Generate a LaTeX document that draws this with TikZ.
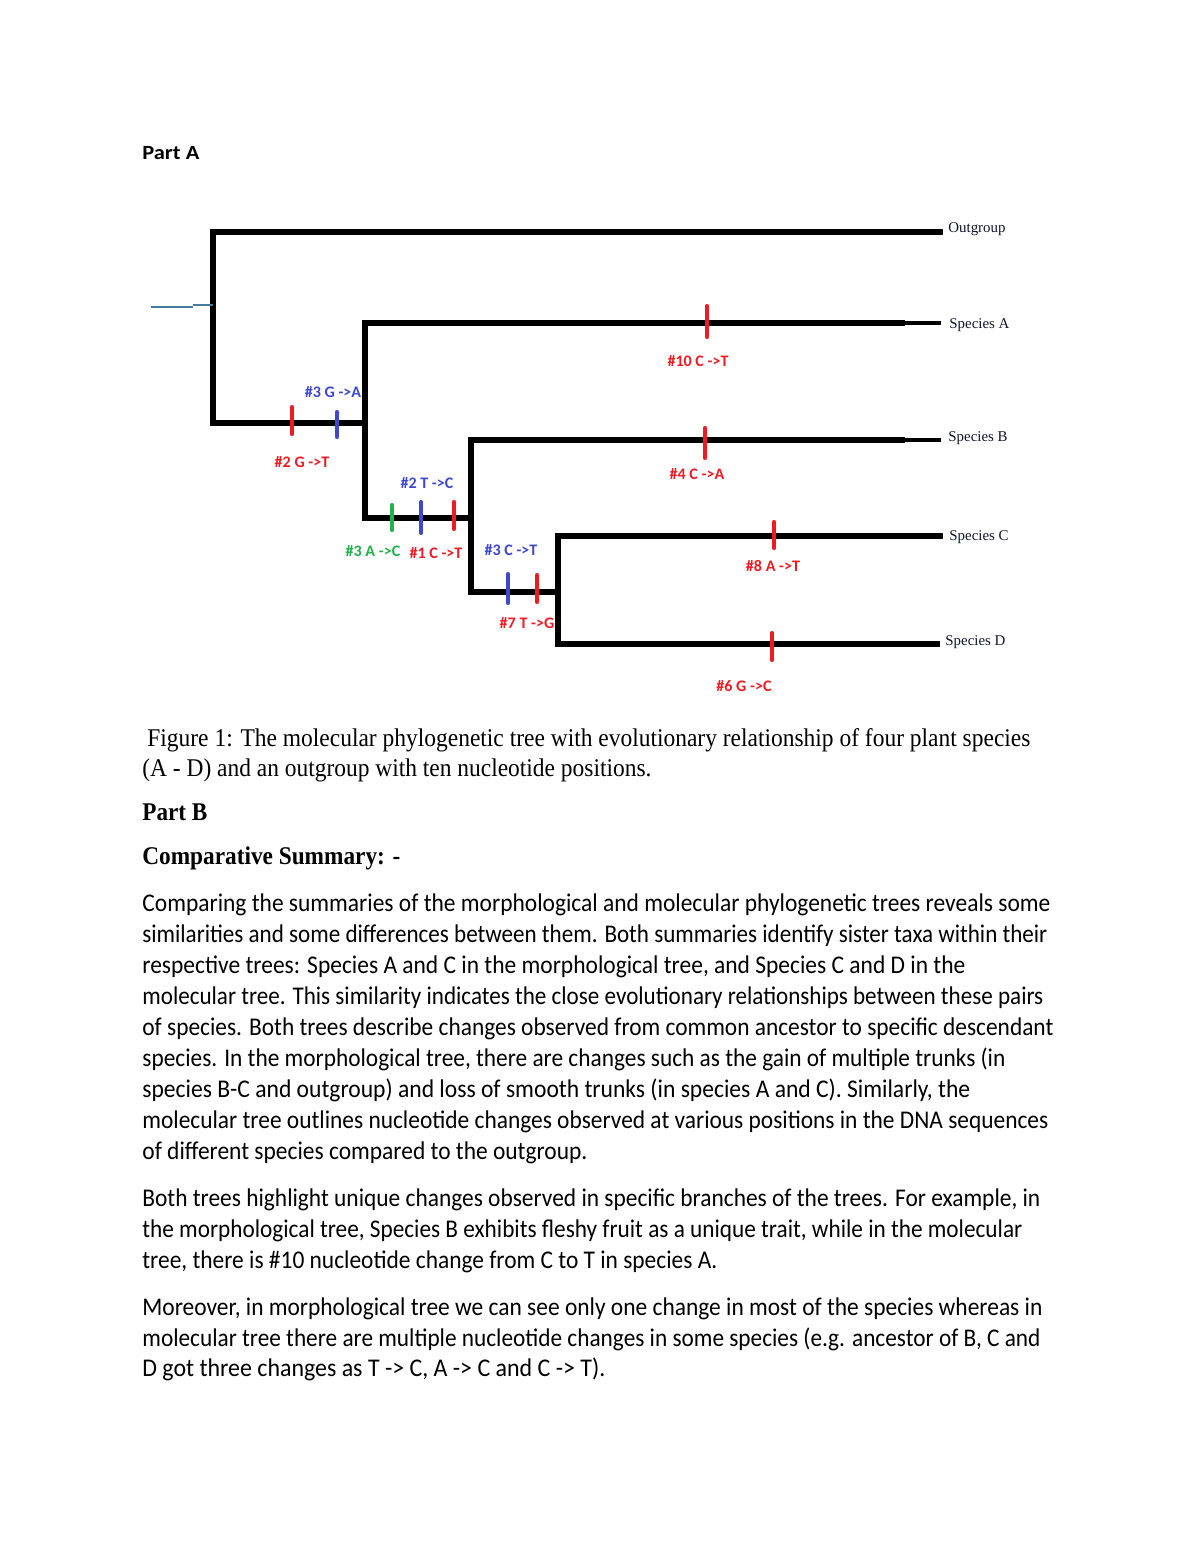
\documentclass[tikz,border=0pt]{standalone}
\usepackage{fontspec}
\usepackage{graphicx}
\setmainfont{Liberation Serif}
\newfontfamily\bodyfont{Carlito}
\newlength\pxu
\setlength\pxu{0.51pt}
\newcommand\fitw[2]{\resizebox{#1\pxu}{\height}{#2}}
\definecolor{mred}{RGB}{237,28,36}
\definecolor{mblue}{RGB}{63,72,204}
\definecolor{mgreen}{RGB}{34,177,76}
\definecolor{mteal}{RGB}{70,125,155}
\definecolor{spink}{RGB}{20,20,45}
\tikzset{
  branch/.style={line width=2.6pt, line join=miter, line cap=rect},
  thinend/.style={line width=1.6pt},
  tick/.style={line width=2.1pt, line cap=round},
  mlabel/.style={font=\bodyfont\bfseries\fontsize{8.2pt}{9pt}\selectfont, inner sep=0pt},
  splabel/.style={font=\fontsize{7.6pt}{9pt}\selectfont, text=spink, anchor=base west, inner sep=0pt},
  txt/.style={anchor=base west, inner sep=0pt},
}
\begin{document}
\begin{tikzpicture}[x={(0.51pt,0)}, y={(0,-0.51pt)}]
\fill[white] (0,0) rectangle (1200,1553);
\useasboundingbox (0,0) rectangle (1200,1553);

% ---------- headings ----------
\node[txt] (partA) at (142,160) {\fitw{57}{\bodyfont\bfseries\fontsize{10.3pt}{12pt}\selectfont Part A}};

% ---------- tree coordinates ----------
\coordinate (rt) at (213,232);
\coordinate (rb) at (213,423);
\coordinate (outend) at (940,232);
\coordinate (n1) at (365,423);
\coordinate (n1t) at (365,323);
\coordinate (n1b) at (365,518);
\coordinate (n2) at (471,518);
\coordinate (n2t) at (471,440);
\coordinate (n2b) at (471,592);
\coordinate (n3) at (558,592);
\coordinate (n3t) at (558,536);
\coordinate (n3b) at (558,644);
\coordinate (Athick) at (902,323);
\coordinate (Aend) at (941,323);
\coordinate (Bthick) at (902,440);
\coordinate (Bend) at (941,440);
\coordinate (Cend) at (940,536);
\coordinate (Dend) at (937,644);
\coordinate (stem0) at (151,307);
\coordinate (stem1) at (193,307);
\coordinate (stem2) at (193,305);
\coordinate (stem3) at (213,305);

% ---------- branches ----------
\draw[branch] (outend) -- (rt) -- (rb) -- (n1);
\draw[branch] (Athick) -- (n1t) -- (n1b) -- (n2);
\draw[thinend] (Athick) -- (Aend);
\draw[branch] (Bthick) -- (n2t) -- (n2b) -- (n3);
\draw[thinend] (Bthick) -- (Bend);
\draw[branch] (Cend) -- (n3t) -- (n3b) -- (Dend);
\draw[mteal, line width=0.8pt] (stem0) -- (stem1);
\draw[mteal, line width=0.8pt] (stem2) -- (stem3);

% ---------- tick marks ----------
\draw[tick, mred]   (292,407) -- (292,434);
\draw[tick, mblue]  (337,412) -- (337,437);
\draw[tick, mred]   (707,306) -- (707,337);
\draw[tick, mred]   (705,428) -- (705,458);
\draw[tick, mgreen] (392,505) -- (392,530);
\draw[tick, mblue]  (421,502) -- (421,533);
\draw[tick, mred]   (454,502) -- (454,529);
\draw[tick, mblue]  (508,574) -- (508,603);
\draw[tick, mred]   (537,575) -- (537,602);
\draw[tick, mred]   (774,522) -- (774,548);
\draw[tick, mred]   (772,633) -- (772,660);

% ---------- mutation labels ----------
\node[mlabel, text=mblue]  (m1)  at (333,392) {\#3 G ->A};
\node[mlabel, text=mred]   (m2)  at (302,462) {\#2 G ->T};
\node[mlabel, text=mred]   (m3)  at (698,361) {\#10 C ->T};
\node[mlabel, text=mred]   (m4)  at (697,474) {\#4 C ->A};
\node[mlabel, text=mblue]  (m5)  at (427,483) {\#2 T ->C};
\node[mlabel, text=mgreen] (m6)  at (373,551) {\#3 A ->C};
\node[mlabel, text=mred]   (m7)  at (436,553) {\#1 C ->T};
\node[mlabel, text=mblue]  (m8)  at (511,550) {\#3 C ->T};
\node[mlabel, text=mred]   (m9)  at (527,623) {\#7 T ->G};
\node[mlabel, text=mred]   (m10) at (773,566) {\#8 A ->T};
\node[mlabel, text=mred]   (m11) at (744,686) {\#6 G ->C};

% ---------- species labels ----------
\node[splabel] (lo) at (948,233) {Outgroup};
\node[splabel] (la) at (949,328) {Species A};
\node[splabel] (lb) at (948,441) {Species B};
\node[splabel] (lc) at (949,540) {Species C};
\node[splabel] (ld) at (945,645) {Species D};

% ---------- caption ----------
\node[txt] (cap1) at (147,746) {\fitw{883}{\fontsize{13pt}{15pt}\selectfont Figure 1: The molecular phylogenetic tree with evolutionary relationship of four plant species}};
\node[txt] (cap2) at (142,776) {\fitw{509}{\fontsize{13pt}{15pt}\selectfont (A - D) and an outgroup with ten nucleotide positions.}};

\node[txt] (partB) at (142,820) {\fitw{65}{\bfseries\fontsize{13pt}{15pt}\selectfont Part B}};
\node[txt] (comp) at (142,864) {\fitw{258}{\bfseries\fontsize{13pt}{15pt}\selectfont Comparative Summary: -}};

% ---------- body ----------
\newcommand\bl[4]{\node[txt] (#1) at (142,#2) {\fitw{#3}{\bodyfont\fontsize{13pt}{15pt}\selectfont #4}};}
\bl{p1a}{911}{908}{Comparing the summaries of the morphological and molecular phylogenetic trees reveals some}
\bl{p1b}{942}{905}{similarities and some differences between them. Both summaries identify sister taxa within their}
\bl{p1c}{973}{823}{respective trees: Species A and C in the morphological tree, and Species C and D in the}
\bl{p1d}{1004}{901}{molecular tree. This similarity indicates the close evolutionary relationships between these pairs}
\bl{p1e}{1035}{911}{of species. Both trees describe changes observed from common ancestor to specific descendant}
\bl{p1f}{1066}{863}{species. In the morphological tree, there are changes such as the gain of multiple trunks (in}
\bl{p1g}{1097}{828}{species B-C and outgroup) and loss of smooth trunks (in species A and C). Similarly, the}
\bl{p1h}{1128}{906}{molecular tree outlines nucleotide changes observed at various positions in the DNA sequences}
\bl{p1i}{1159}{445}{of different species compared to the outgroup.}

\bl{p2a}{1206}{898}{Both trees highlight unique changes observed in specific branches of the trees. For example, in}
\bl{p2b}{1237}{880}{the morphological tree, Species B exhibits fleshy fruit as a unique trait, while in the molecular}
\bl{p2c}{1268}{575}{tree, there is \#10 nucleotide change from C to T in species A.}

\bl{p3a}{1315}{900}{Moreover, in morphological tree we can see only one change in most of the species whereas in}
\bl{p3b}{1346}{898}{molecular tree there are multiple nucleotide changes in some species (e.g. ancestor of B, C and}
\bl{p3c}{1376}{463}{D got three changes as T -> C, A -> C and C -> T).}
\end{tikzpicture}
\end{document}
